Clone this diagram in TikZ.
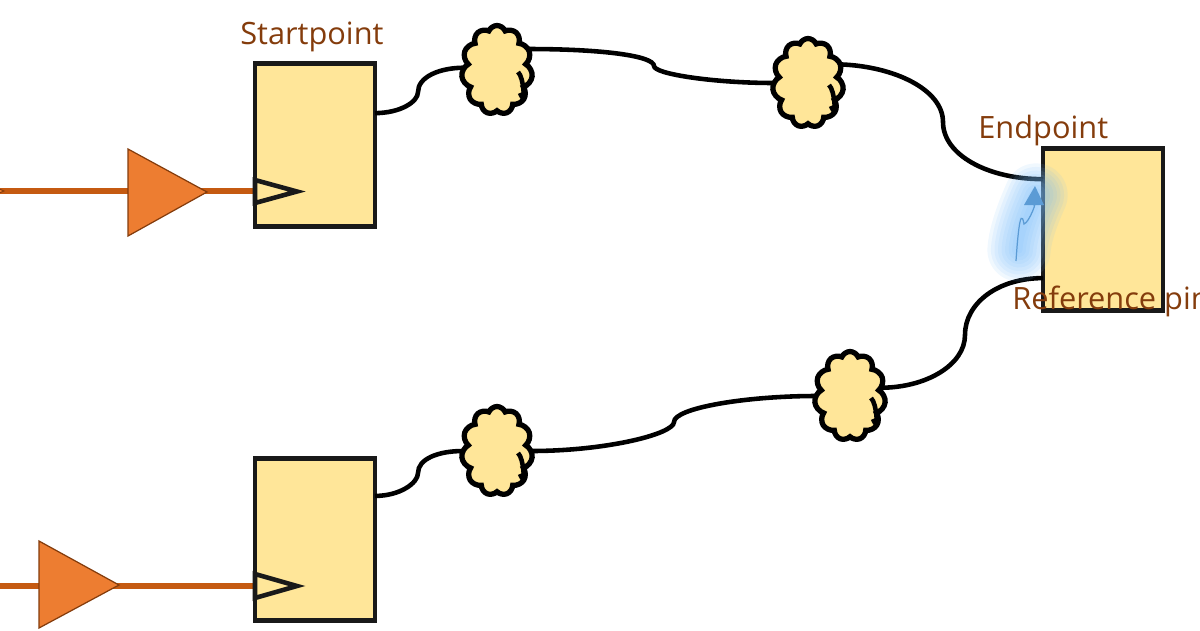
\documentclass[tikz,border=0pt]{standalone}
\usepackage{fontspec}
\setmainfont{Open Sans}
\usetikzlibrary{shapes.symbols, shapes.geometric, calc}
\definecolor{ffyellow}{HTML}{FFE699}
\definecolor{wirebrown}{HTML}{C55A11}
\definecolor{bufforange}{HTML}{ED7D31}
\definecolor{labelbrown}{HTML}{843C0C}
\definecolor{glowblue}{HTML}{78BCFA}
\definecolor{arrowblue}{HTML}{5B9BD5}
\tikzset{
    flop/.style={draw=black!90, fill=ffyellow, line width=2.8pt, minimum width=2.4cm, minimum height=3.25cm, inner sep=0pt, outer sep=0pt},
    logic/.style={cloud, cloud puffs=11, cloud puff arc=135, aspect=0.8, draw=black, fill=ffyellow, line width=3pt, minimum width=1.42cm, minimum height=1.78cm, inner sep=0pt, outer sep=0pt},
    wire/.style={black, line width=2.6pt},
    clockwire/.style={wirebrown, line width=2.9pt},
    buffer/.style={fill=bufforange, draw=labelbrown, line width=0.7pt, line join=miter},
    clockpin/.style={draw=black!90, line width=2.6pt, fill=ffyellow},
    tag/.style={text=labelbrown, font=\fontsize{17.5}{20}\selectfont, anchor=base west, inner sep=0pt},
}
\begin{document}
\begin{tikzpicture}[x=0.02cm, y=-0.02cm]

    \clip (0, 0) rectangle (1200, 630);

    \node[flop] (startff) at (315, 145) {};
    \node[flop] (lowerff) at (315, 539.5) {};
    \node[flop] (endff) at (1103, 229.5) {};

    \node[logic] (cloudA) at (497, 70) {};
    \node[logic] (cloudB) at (808, 83) {};
    \node[logic] (cloudC) at (850, 396) {};
    \node[logic] (cloudD) at (497, 451) {};

    % clock inputs
    \coordinate (clkA) at (0, 191);
    \coordinate (clkB) at (0, 586);
    \draw[clockwire] (clkA) -- (startff.west |- clkA);
    \draw[clockwire] (clkB) -- (lowerff.west |- clkB);
    \draw[labelbrown, fill=bufforange, line width=0.5pt] (clkA) ++(-3, -3) -- ++(7, 3) -- ++(-7, 3) -- cycle;
    \draw[buffer] (128, 149) -- (207, 192) -- (128, 236) -- cycle;
    \draw[buffer] (39, 541) -- (119, 585) -- (39, 628) -- cycle;
    \draw[clockpin] (255, 180) -- (297, 191.5) -- (255, 203) -- cycle;
    \draw[clockpin] (255, 574) -- (297, 586) -- (255, 598) -- cycle;

    % data paths
    \draw[wire] (startff.28) .. controls +(25, 0) and +(0, 10) .. (418, 92) .. controls +(0, -15) and +(-25, 0) .. (cloudA.176);
    \draw[wire] (cloudA.34) .. controls +(75, 0) and +(0, -10) .. (654, 66) .. controls +(0, 8) and +(-60, 0) .. (cloudB.180);
    \draw[wire] (cloudB.30) .. controls +(55, 2) and +(0, -32) .. (943, 122) .. controls +(0, 33) and +(-55, 0) .. (endff.140.5);
    \draw[wire] (lowerff.36.6) .. controls +(25, 0) and +(0, 10) .. (418, 473) .. controls +(0, -14) and +(-25, 0) .. (cloudD.180);
    \draw[wire] (cloudD.0) .. controls +(75, 0) and +(0, 12) .. (674, 422) .. controls +(0, -14) and +(-70, 0) .. (cloudC.180);
    \draw[wire] (cloudC.15) .. controls +(45, 0) and +(0, 30) .. (965, 335) .. controls +(0, -32) and +(-45, 0) .. (endff.219.5);

    % little arcs inside the clouds
    \foreach \c in {cloudA, cloudB, cloudC, cloudD}
        \draw[wire] ($(\c.center) + (21, 2)$) .. controls +(6, 5) and +(6, 15) .. +(2, 21);

    % glow round the arrow
    \foreach \w in {4, 8, ..., 36}
        \draw[glowblue, opacity=0.11, line width=\w pt, line cap=round] (1019, 250) .. controls (1020, 235) and (1027, 215) .. (1036, 195);

    \coordinate (pinfrom) at (1016, 261);
    \coordinate (pinto) at (1033, 205);
    \draw[arrowblue, line width=0.7pt] (pinfrom) .. controls +(1, -15) and +(-4, -22) .. (1024, 224) .. controls +(5, -1) and +(6, -8) .. (pinto);
    \fill[arrowblue] (1035, 186) -- (1044, 205) -- (1024, 205) -- cycle;

    \node[tag] (startlabel) at (240, 44) {Startpoint};
    \node[tag] (endlabel) at (978, 138) {Endpoint};
    \node[tag] (reflabel) at (1012, 309) {Reference pin};

\end{tikzpicture}
\end{document}
